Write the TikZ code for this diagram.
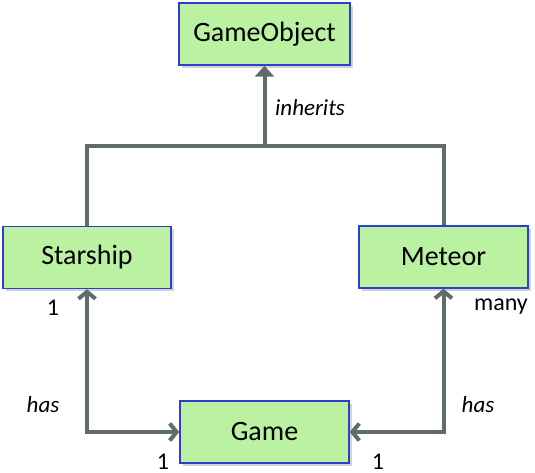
\documentclass[tikz,border=0pt]{standalone}
\usepackage{fontspec}
\setmainfont{Carlito}
\usetikzlibrary{arrows.meta,shadows}
\definecolor{boxfill}{HTML}{BAF2A2}
\definecolor{boxline}{HTML}{2E3FD0}
\definecolor{conn}{HTML}{5F6B6D}
\tikzset{
  cls/.style={draw=boxline, line width=1.4pt, fill=boxfill, minimum height=62pt,
    inner sep=0pt, font=\fontsize{28}{33}\selectfont,
    drop shadow={shadow xshift=2.5pt, shadow yshift=-2.5pt, opacity=0.35, fill=gray}},
  link/.style={draw=conn, line width=4pt},
  barb/.style={link, {Straight Barb[length=7pt,width=17pt,line width=4pt]}-{Straight Barb[length=7pt,width=17pt,line width=4pt]}},
  inh/.style={link, -{Triangle[length=11pt,width=19pt]}},
  lbl/.style={font=\fontsize{24}{28}\selectfont, inner sep=0pt},
  ilbl/.style={font=\fontsize{23}{27}\selectfont\itshape, inner sep=0pt}
}
\begin{document}
\begin{tikzpicture}[x=1pt,y=-1pt]
\useasboundingbox (0,0) rectangle (535,472);
\node[cls, minimum width=171pt] (go) at (264.5,34) {GameObject};
\node[cls, minimum width=168pt] (ss) at (87,257.5) {Starship};
\node[cls, minimum width=169pt] (me) at (443.5,257) {Meteor};
\node[cls, minimum width=169pt] (ga) at (264.5,432) {Game};
\coordinate (jl) at (87,146);
\coordinate (jm) at (264.5,146);
\coordinate (jr) at (443.5,146);
\draw[link, line join=miter] (ss.north) -- (jl) -- (jr) -- (me.north);
\draw[inh] (jm) -- (go.south);
\draw[barb] (ss.south) |- (ga.west);
\draw[barb] (me.south) |- (ga.east);
\node[ilbl, anchor=west] (tinh) at (275,108) {inherits};
\node[lbl] (t1a) at (53,308) {1};
\node[ilbl] (thas1) at (43,405) {has};
\node[lbl] (t1b) at (163,462) {1};
\node[lbl] (tmany) at (501,307) {many};
\node[ilbl] (thas2) at (478,405) {has};
\node[lbl] (t1c) at (378,462) {1};
\end{tikzpicture}
\end{document}
